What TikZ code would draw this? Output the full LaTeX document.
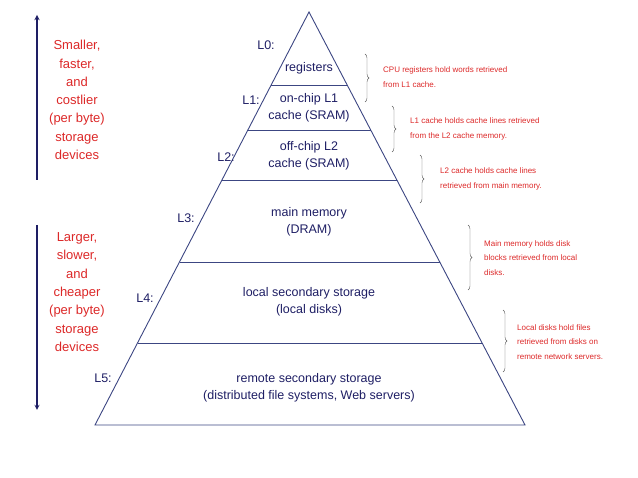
\documentclass[tikz,border=0pt]{standalone}
\usepackage{fontspec}
\setmainfont{Liberation Sans}
\usetikzlibrary{decorations.pathreplacing}
\definecolor{navy}{RGB}{30,30,100}
\definecolor{rd}{RGB}{220,40,40}
\definecolor{edge}{RGB}{60,70,130}
\begin{document}
\begin{tikzpicture}[x=1pt,y=-1pt,
  lvl/.style={font=\fontsize{12.5}{17}\selectfont,text=navy,align=center,inner sep=0},
  lab/.style={font=\fontsize{12.5}{15}\selectfont,text=navy,inner sep=0},
  side/.style={font=\fontsize{13}{18.3}\selectfont,text=rd,align=center,inner sep=0},
  note/.style={font=\fontsize{8}{14.5}\selectfont,text=rd,align=left,anchor=west,inner sep=0},
  brc/.style={draw=gray!70!black,decorate,decoration={brace,amplitude=4pt}},
  ln/.style={draw=edge,line width=0.9pt}]
\useasboundingbox (0,0) rectangle (638,478);
\coordinate (apex) at (309,12);
\coordinate (bl) at (95,425);
\coordinate (br) at (525,425);
\draw[ln] (apex) -- (bl) -- (br) -- cycle;
\coordinate (a1) at (271.2,85); \coordinate (b1) at (347.2,85);
\coordinate (a2) at (247.9,130); \coordinate (b2) at (370.7,130);
\coordinate (a3) at (222.0,180); \coordinate (b3) at (396.9,180);
\coordinate (a4) at (179.5,262); \coordinate (b4) at (439.7,262);
\coordinate (a5) at (137.5,343); \coordinate (b5) at (482.1,343);
\foreach \i in {1,...,5} \draw[ln] (a\i) -- (b\i);
\node[lab] (l0) at (266,45) {L0:};
\node[lab] (l1) at (251,100) {L1:};
\node[lab] (l2) at (226,157) {L2:};
\node[lab] (l3) at (186,218) {L3:};
\node[lab] (l4) at (145,298) {L4:};
\node[lab] (l5) at (103,378) {L5:};
\node[lab] (t0) at (309,68) {registers};
\node[lvl] (t1) at (309,108) {on-chip L1\\cache (SRAM)};
\node[lvl] (t2) at (309,156) {off-chip L2\\cache (SRAM)};
\node[lvl] (t3) at (309,222) {main memory\\(DRAM)};
\node[lvl] (t4) at (309,302) {local secondary storage\\(local disks)};
\node[lvl] (t5) at (309,388) {remote secondary storage\\(distributed file systems, Web servers)};
\coordinate (u1) at (37,180); \coordinate (u2) at (37,15);
\coordinate (d1) at (37,225); \coordinate (d2) at (37,410);
\draw[navy,line width=1.3pt,-stealth] (u1) -- (u2);
\draw[navy,line width=1.3pt,-stealth] (d1) -- (d2);
\node[side] (s1) at (77,100) {Smaller,\\faster,\\and\\costlier\\(per byte)\\storage\\devices};
\node[side] (s2) at (77,292) {Larger,\\slower,\\and\\cheaper\\(per byte)\\storage\\devices};
\coordinate (c1) at (365,54); \coordinate (c1b) at (365,102);
\coordinate (c2) at (392,106); \coordinate (c2b) at (392,152);
\coordinate (c3) at (420,155); \coordinate (c3b) at (420,203);
\coordinate (c4) at (468,225); \coordinate (c4b) at (468,290);
\coordinate (c5) at (503,310); \coordinate (c5b) at (503,372);
\foreach \i in {1,...,5} \draw[brc] (c\i) -- (c\i b);
\node[note] (n1) at (383,77) {CPU registers hold words retrieved\\from L1 cache.};
\node[note] (n2) at (410,129) {L1 cache holds cache lines retrieved\\from the L2 cache memory.};
\node[note] (n3) at (440,179) {L2 cache holds cache lines\\retrieved from main memory.};
\node[note] (n4) at (484,258) {Main memory holds disk\\blocks retrieved from local\\disks.};
\node[note] (n5) at (517,342) {Local disks hold files\\retrieved from disks on\\remote network servers.};
\end{tikzpicture}
\end{document}
